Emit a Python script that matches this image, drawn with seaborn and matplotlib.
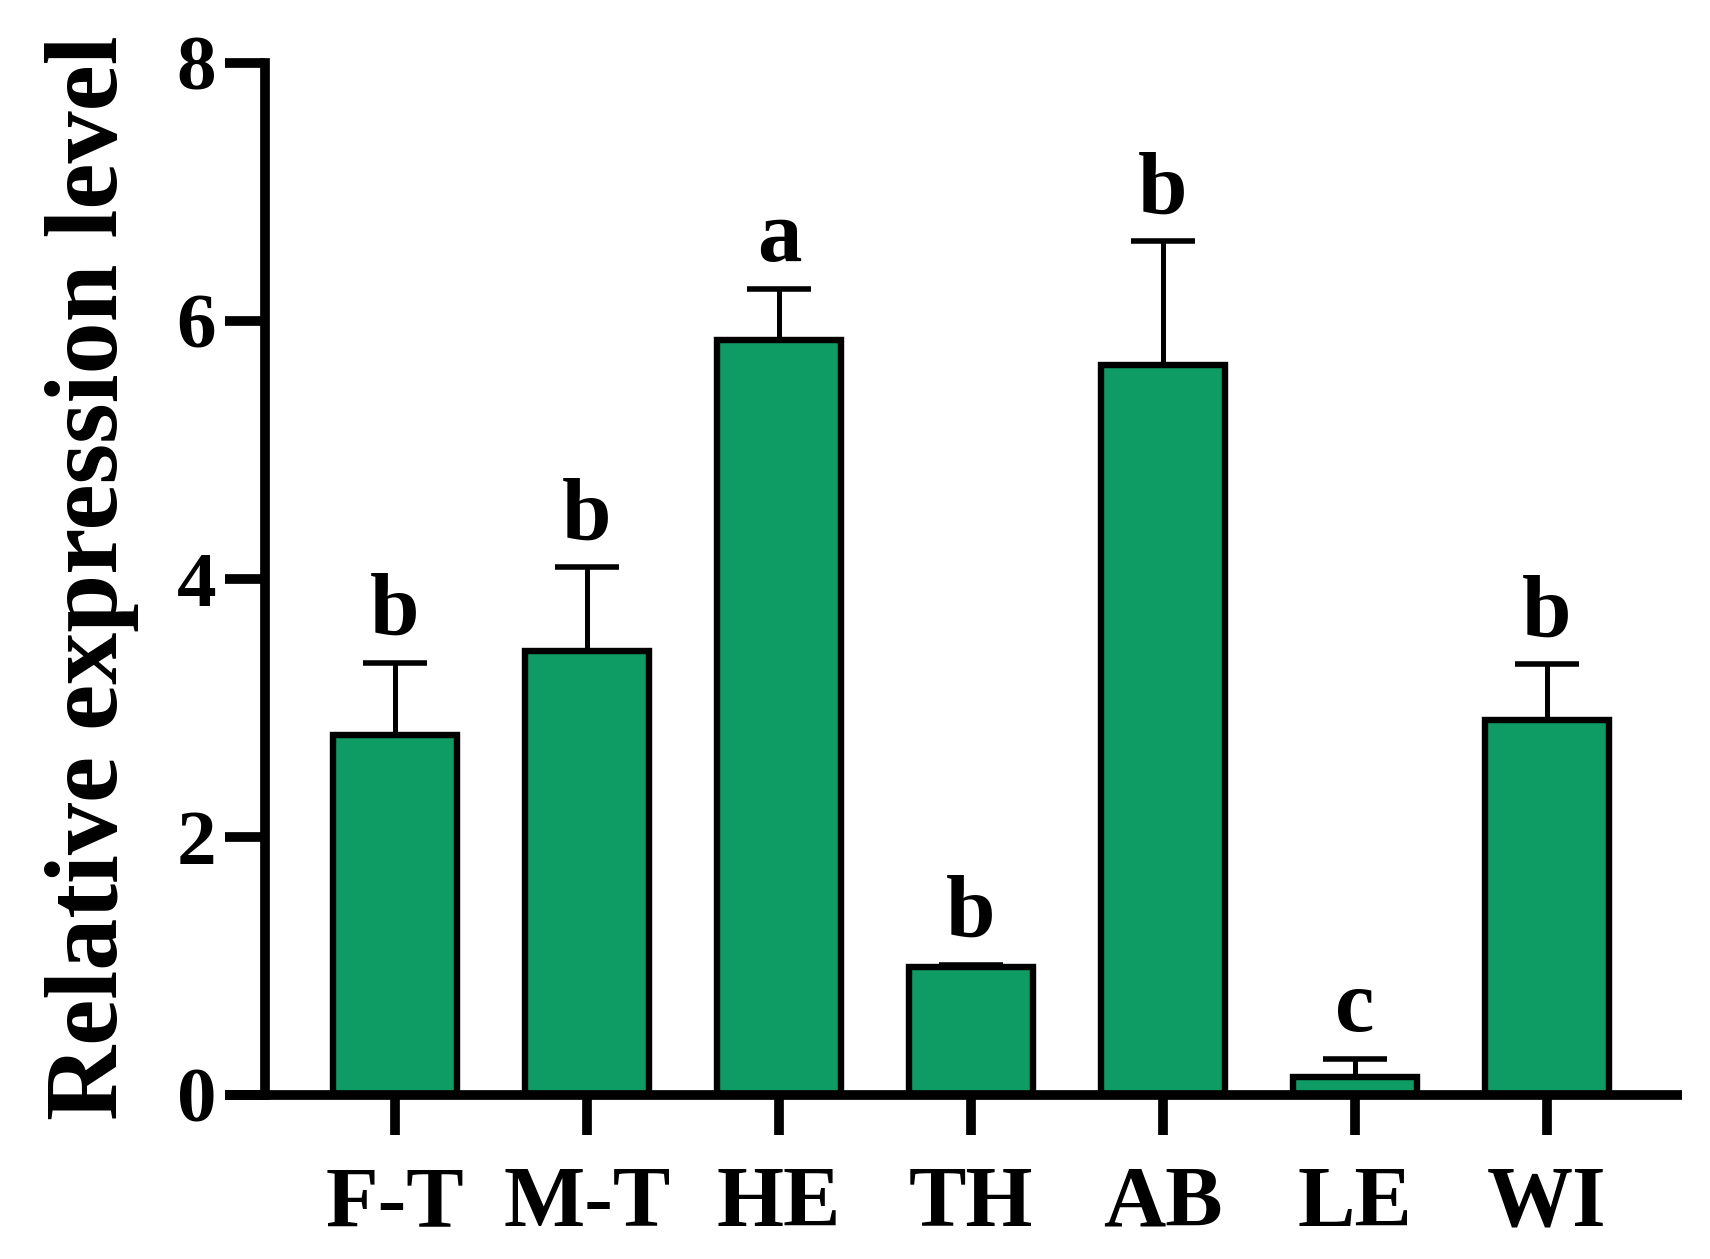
import matplotlib
matplotlib.use("Agg")
import matplotlib.pyplot as plt
import seaborn as sns
import pandas as pd
import numpy as np

tissues = ["F-T", "M-T", "HE", "TH", "AB", "LE", "WI"]
means = [2.79, 3.44, 5.85, 0.99, 5.66, 0.14, 2.91]
sem_up = [0.56, 0.65, 0.40, 0.02, 0.96, 0.14, 0.43]
letters = ["b", "b", "a", "b", "b", "c", "b"]
yticks = [0, 2, 4, 6, 8]

sns.set_theme(style="white")
plt.rcParams['font.family'] = ['Liberation Serif', 'DejaVu Serif']
plt.rcParams['font.weight'] = 'bold'
plt.rcParams['text.color'] = 'black'
plt.rcParams['xtick.color'] = 'black'
plt.rcParams['ytick.color'] = 'black'
plt.rcParams['axes.labelcolor'] = 'black'

df = pd.DataFrame({"tissue": tissues, "value": means})

fig = plt.figure(figsize=(17.10, 12.59), dpi=100)
ax = fig.add_axes([225/1710, 1 - 1095/1259, (1682 - 225)/1710, (1095 - 63)/1259])

green = "#0f9b64"
sns.barplot(data=df, x="tissue", y="value", color=green, edgecolor="black",
            linewidth=4.6, width=0.645, saturation=1, ax=ax, zorder=2)

xpos = np.arange(len(tissues))
ax.errorbar(xpos, means, yerr=[np.zeros(len(means)), sem_up], fmt="none",
            ecolor="black", elinewidth=3.6, capsize=23, capthick=4.0, zorder=1)

for x, m, e, l in zip(xpos, means, sem_up, letters):
    ax.annotate(l, xy=(x, m + e), xytext=(0, 20), textcoords="offset points",
                ha="center", va="baseline", fontsize=64, fontweight="bold",
                color="black", annotation_clip=False)

ax.set_ylim(0, 8)
ax.set_xlim(-0.885, 6.703)
ax.set_yticks(yticks)
ax.set_yticklabels([str(t) for t in yticks])

for s in ["top", "right"]:
    ax.spines[s].set_visible(False)
ax.spines["left"].set_position(("data", -0.677))
ax.spines["left"].set_linewidth(7)
ax.spines["bottom"].set_linewidth(7)
ax.spines["left"].set_color("black")
ax.spines["bottom"].set_color("black")
ax.spines["left"].set_capstyle("projecting")
ax.spines["bottom"].set_capstyle("butt")

ax.tick_params(axis="y", length=29, width=7, color="black", pad=6,
               labelsize=57, left=True, labelcolor="black")
ax.tick_params(axis="x", length=29, width=7, color="black", pad=22,
               labelsize=62, bottom=True, labelcolor="black")
for lab in ax.get_xticklabels() + ax.get_yticklabels():
    lab.set_fontweight("bold")
ax.set_xlabel("")
ax.set_ylabel("")
ax.grid(False)

fig.text(92/1710, 1 - 578/1259, "Relative expression level", rotation=90,
         ha="center", va="center", fontsize=75, fontweight="bold", color="black")

fig.savefig("out.png", dpi=100, facecolor="white")
